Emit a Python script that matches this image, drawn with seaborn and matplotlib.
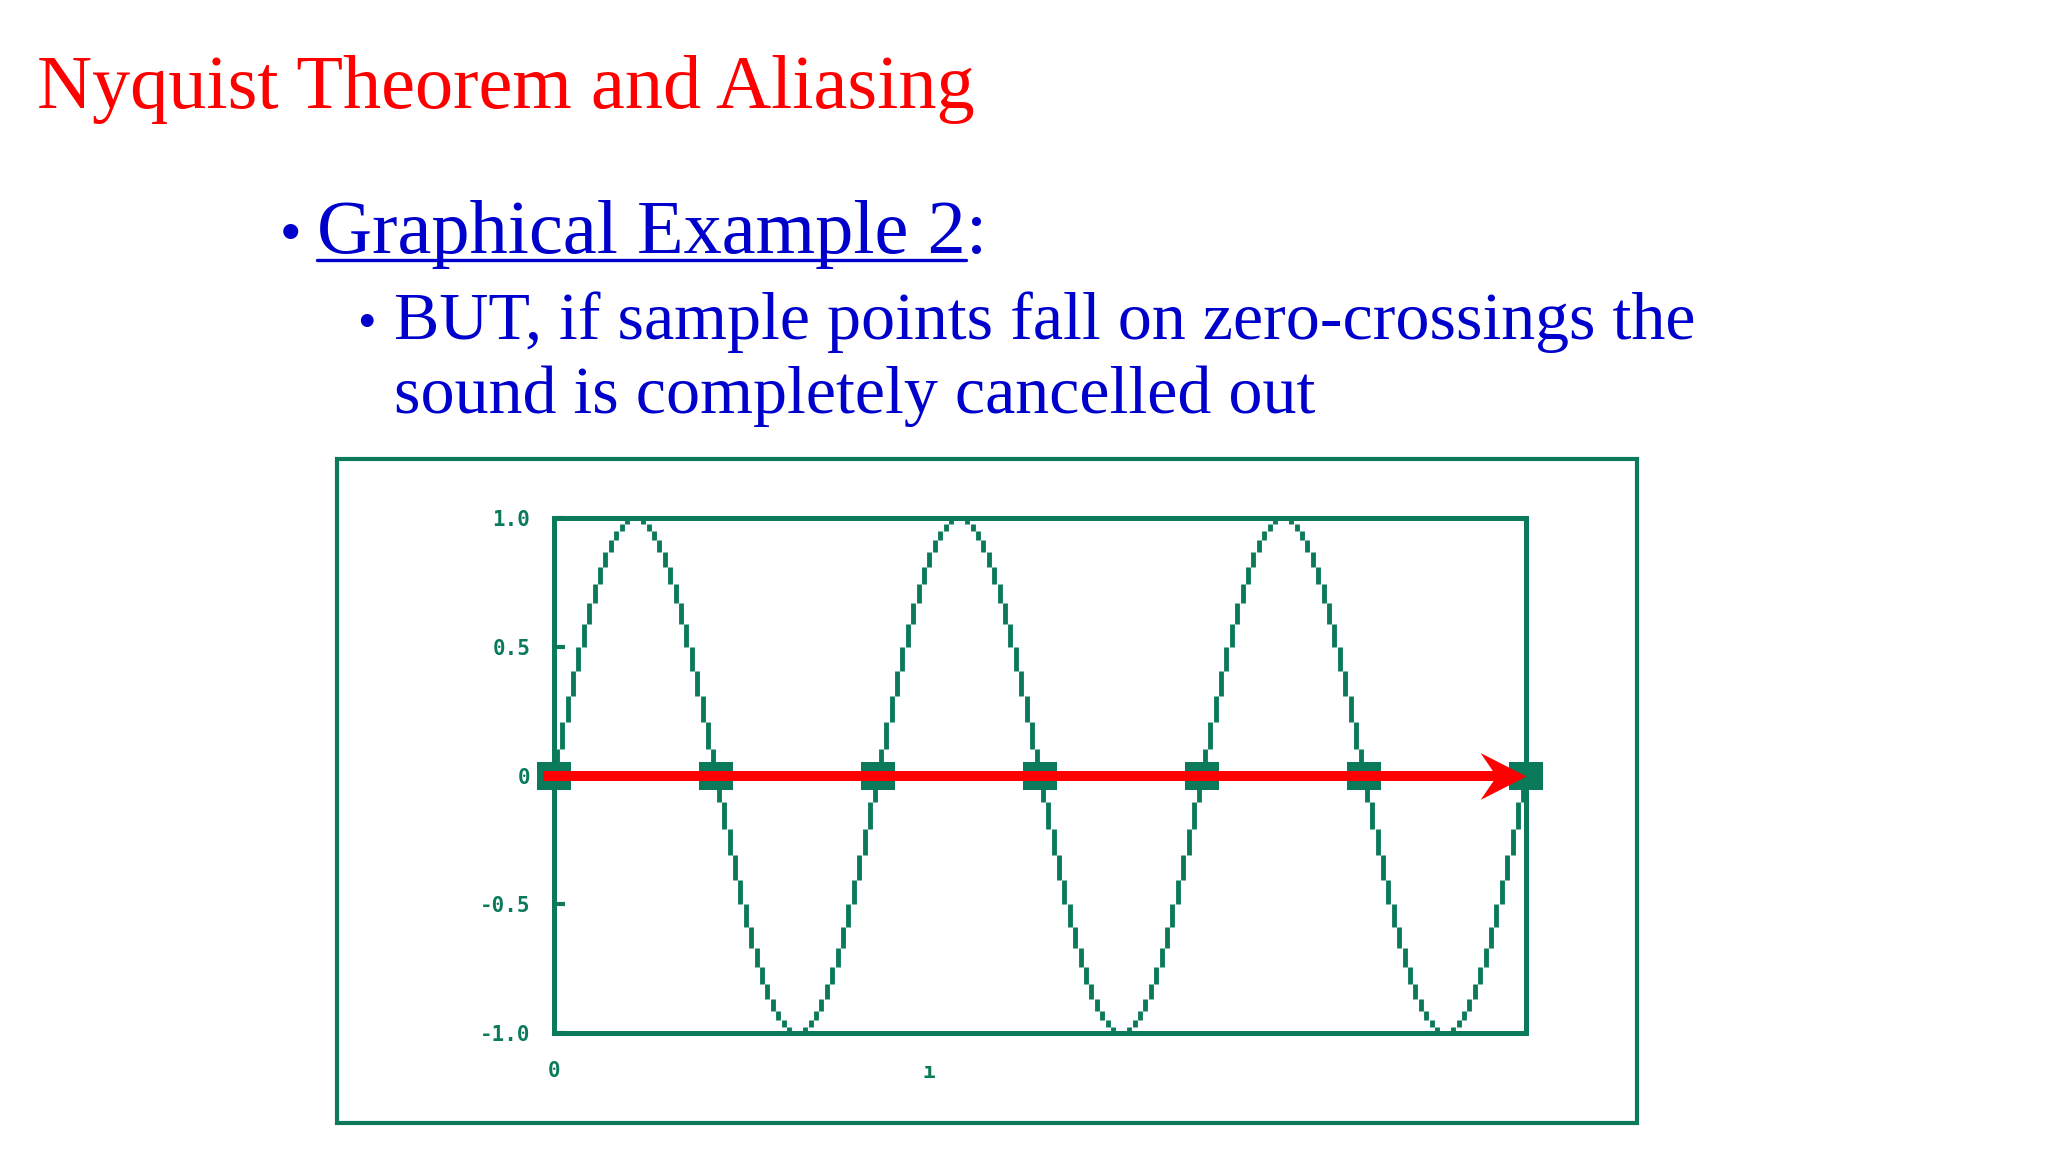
import numpy as np
import matplotlib
matplotlib.use("Agg")
import matplotlib.pyplot as plt
import matplotlib.patches as mpatches
import matplotlib.lines as mlines
import seaborn as sns

# chart values
cycles = 3                       # whole periods of the sine shown
n_steps = 180                    # the original bitmap curve is drawn in ~180 pixel steps
sample_x = [0, 0.5, 1, 1.5, 2, 2.5, 3]   # sample points, in periods
sample_y = [0, 0, 0, 0, 0, 0, 0]         # every sample lands on a zero crossing
ytick_vals = [-1.0, -0.5, 0.0, 0.5, 1.0]
ytick_labels = ["-1.0", "-0.5", "0", "0.5", "1.0"]
title = "Nyquist Theorem and Aliasing"
bullet1 = "Graphical Example 2"
bullet2_lines = ["BUT, if sample points fall on zero-crossings the",
                 "sound is completely cancelled out"]

GREEN = "#0b7a5a"
RED = "#ff0000"
BLUE = "#0000cc"
W, H = 2048, 1152

sns.set_theme(style="white")
plt.rcParams["font.family"] = ["Liberation Serif", "DejaVu Sans"]

fig = plt.figure(figsize=(W / 100, H / 100), dpi=100)
fig.patch.set_facecolor("white")


def px(x, y):
    return x / W, 1 - y / H


# slide text
fig.text(*px(37, 108), title, color=RED, fontsize=55, va="baseline")

fig.text(*px(281, 250), "\u2022", color=BLUE, fontsize=40, va="baseline",
         family=["Liberation Sans"])
t1 = fig.text(*px(317, 253), bullet1, color=BLUE, fontsize=55, va="baseline")
fig.canvas.draw()
rend = fig.canvas.get_renderer()
bb = t1.get_window_extent(rend)
fig.text(bb.x1 / W, 1 - 253 / H, ":", color=BLUE, fontsize=55, va="baseline")
fig.add_artist(mlines.Line2D([bb.x0 / W, bb.x1 / W], [1 - 260 / H, 1 - 260 / H],
                             color=BLUE, lw=2.4, transform=fig.transFigure))

fig.text(*px(358, 336), "\u2022", color=BLUE, fontsize=34, va="baseline",
         family=["Liberation Sans"])
for i, line in enumerate(bullet2_lines):
    fig.text(*px(394, 339 + i * 74), line, color=BLUE, fontsize=49, va="baseline")

# outer frame
fig.add_artist(mpatches.Rectangle(px(337, 1123), (1637 - 337) / W, (1123 - 459) / H,
                                  fill=False, edgecolor=GREEN, lw=3,
                                  transform=fig.transFigure))

# plot area
x0, x1, y0, y1 = 554, 1526, 518, 1033
ax = fig.add_axes([x0 / W, 1 - y1 / H, (x1 - x0) / W, (y1 - y0) / H])
ax.set_facecolor("white")

# pixel-style curve: one short vertical bar per step, corners touching
edges = np.linspace(0, cycles, n_steps + 1)
mids = (edges[:-1] + edges[1:]) / 2
lo = np.sin(2 * np.pi * edges[:-1])
hi = np.sin(2 * np.pi * edges[1:])
ax.vlines(mids, np.minimum(lo, hi), np.maximum(lo, hi), color=GREEN, lw=3.5,
          capstyle="butt", zorder=2)

rect_marker = [(-16, -13), (16, -13), (16, 13), (-16, 13), (-16, -13)]
sns.scatterplot(x=sample_x, y=sample_y, ax=ax, marker=rect_marker, s=24 ** 2,
                color=GREEN, edgecolor=GREEN, linewidth=0, zorder=3, clip_on=False)

# red arrow along the zero line
shaft_end = sample_x[-1] - 0.09
sns.lineplot(x=[sample_x[0] - 0.035, shaft_end], y=[0, 0], ax=ax, color=RED, lw=7.2,
             zorder=4, solid_capstyle="butt", clip_on=False)
stealth = [(0, 0), (-46, -23.5), (-30, 0), (-46, 23.5), (0, 0)]
ax.plot([sample_x[-1]], [0], marker=stealth, markersize=66, color=RED,
        markeredgewidth=0, zorder=5, clip_on=False, linestyle="none")

ax.set_xlim(0, cycles)
ax.set_ylim(-1, 1)
for s in ax.spines.values():
    s.set_color(GREEN)
    s.set_linewidth(3.6)
    s.set_visible(True)

ax.set_yticks(ytick_vals)
ax.set_yticklabels(ytick_labels)
ax.set_xticks([0])
ax.set_xticklabels(["0"])
ax.tick_params(axis="y", direction="in", length=8, width=3, color=GREEN,
               pad=17, left=True, right=False)
ax.tick_params(axis="x", length=0, pad=20)
for lab in ax.get_yticklabels() + ax.get_xticklabels():
    lab.set_family(["DejaVu Sans Mono"])
    lab.set_fontweight("bold")
    lab.set_fontsize(15)
    lab.set_color(GREEN)
ax.text((929 - x0) / (x1 - x0), -0.075, "\u0131", transform=ax.transAxes,
        color=GREEN, fontsize=15, fontweight="bold", ha="center", va="center",
        family=["DejaVu Sans Mono"])
ax.set_xlabel("")
ax.set_ylabel("")
ax.grid(False)

fig.savefig("out.png", dpi=100, facecolor="white")
